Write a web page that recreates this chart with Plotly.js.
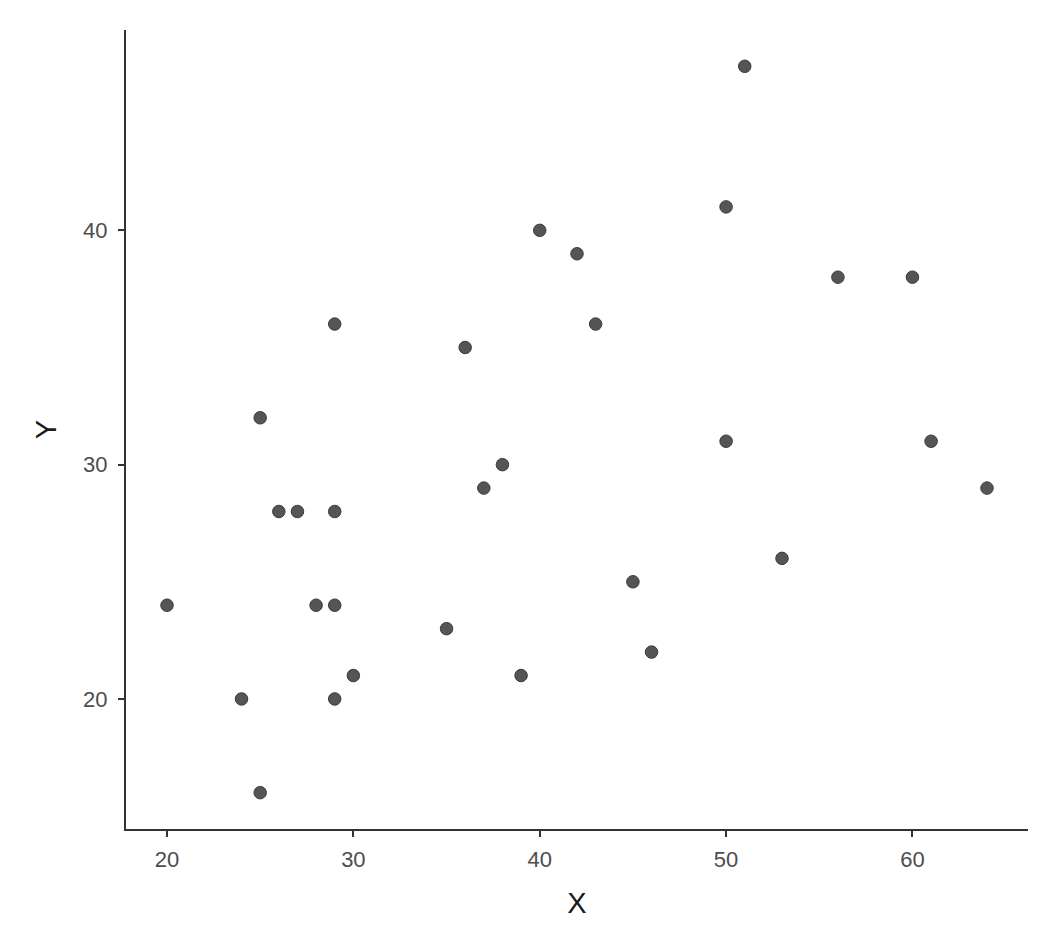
<!DOCTYPE html>
<html>
<head>
<meta charset="utf-8">
<script src="https://cdn.plot.ly/plotly-3.0.1.min.js"></script>
<style>html,body{margin:0;padding:0;background:#fff;}#chart{width:1060px;height:948px;}</style>
</head>
<body>
<div id="chart"></div>
<script>
const xValues = [51, 50, 40, 42, 56, 60, 29, 43, 36, 25, 50, 61, 38, 37, 64, 26, 27, 29, 53, 45, 20, 28, 29, 35, 46, 30, 39, 24, 29, 25];
const yValues = [47, 41, 40, 39, 38, 38, 36, 36, 35, 32, 31, 31, 30, 29, 29, 28, 28, 28, 26, 25, 24, 24, 24, 23, 22, 21, 21, 20, 20, 16];
const xTicks = [20, 30, 40, 50, 60];
const yTicks = [20, 30, 40];

const trace = {
  x: xValues, y: yValues, type: 'scatter', mode: 'markers',
  marker: {size: 12.5, color: 'rgba(80,80,80,0.97)', line: {width: 1, color: '#3a3a3a'}},
  hoverinfo: 'x+y'
};
const fontFam = 'Liberation Sans, Arial, sans-serif';
const axisCommon = {
  showgrid: false, zeroline: false, showline: true, linecolor: '#333333', linewidth: 2,
  ticks: 'outside', ticklen: 6, tickwidth: 2, tickcolor: '#333333',
  tickfont: {family: fontFam, size: 22, color: '#4d4d4d'},
  mirror: false
};
const layout = {
  width: 1060, height: 948,
  margin: {l: 126, r: 32, t: 30, b: 119},
  paper_bgcolor: '#ffffff', plot_bgcolor: '#ffffff',
  showlegend: false,
  xaxis: Object.assign({}, axisCommon, {
    range: [17.8, 66.2], tickvals: xTicks, ticktext: xTicks.map(String),
    ticklabelstandoff: 4,
    title: {text: 'X', font: {family: fontFam, size: 29, color: '#1a1a1a'}, standoff: 21}
  }),
  yaxis: Object.assign({}, axisCommon, {
    range: [14.45, 48.55], tickvals: yTicks, ticktext: yTicks.map(String),
    ticklabelstandoff: 6,
    title: {text: 'Y', font: {family: fontFam, size: 29, color: '#1a1a1a'}, standoff: 18}
  })
};
Plotly.newPlot('chart', [trace], layout, {displayModeBar: false, staticPlot: true});
</script>
</body>
</html>
